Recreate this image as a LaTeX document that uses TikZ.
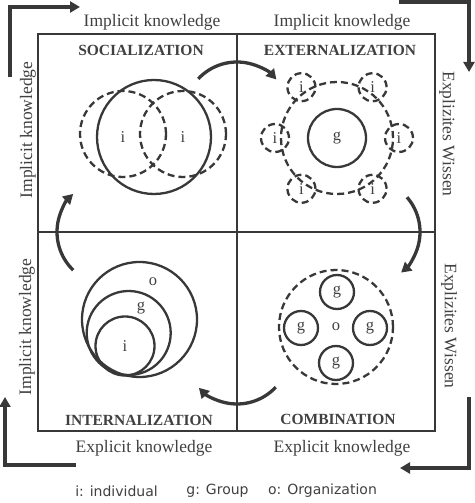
\documentclass[tikz,border=0pt]{standalone}
\usepackage{fontspec}
\setmainfont{Liberation Serif}
\newfontfamily\legendfont{DejaVu Sans}
\usetikzlibrary{arrows.meta}
\definecolor{lc}{HTML}{383838}
\definecolor{tc}{HTML}{404040}
\begin{document}
\begin{tikzpicture}[x=1pt,y=1pt,
  lbl/.style={font=\fontsize{17.5}{20}\selectfont, text=tc, inner sep=0},
  ttl/.style={font=\fontsize{15.5}{18}\selectfont\bfseries, text=tc, inner sep=0},
  ltr/.style={font=\fontsize{16.5}{19}\selectfont, text=tc, inner sep=0},
  leg/.style={font=\legendfont\fontsize{14}{16}\selectfont, text=tc, inner sep=0},
  solidc/.style={circle, draw=lc, line width=2.3pt, inner sep=0, outer sep=0, font=\fontsize{16.5}{19}\selectfont, text=tc},
  dashc/.style={solidc, dash pattern=on 7pt off 4pt},
  arr/.style={draw=lc, line width=3.3pt, -{Triangle[length=10pt,width=11pt]}},
  frame/.style={draw=lc, line width=2.3pt}
]
\useasboundingbox (0,0) rectangle (474,503);

% frame
\node[frame, minimum width=397pt, minimum height=397pt, inner sep=0, outer sep=0] (box) at (236.5,270.5) {};
\coordinate (vt) at (237,469); \coordinate (vb) at (237,72);
\coordinate (hl) at (38,271); \coordinate (hr) at (435,271);
\draw[frame] (vt) -- (vb);
\draw[frame] (hl) -- (hr);

% outer labels
\node[lbl] (ltop1) at (152,481) {Implicit knowledge};
\node[lbl] (ltop2) at (342,481) {Implicit knowledge};
\node[lbl] (lbot1) at (144,55) {Explicit knowledge};
\node[lbl] (lbot2) at (342,55) {Explicit knowledge};
\node[lbl, rotate=90] (lleft1) at (28,373) {Implicit knowledge};
\node[lbl, rotate=90] (lleft2) at (27,176) {Implicit knowledge};
\node[lbl, rotate=-90] (lright1) at (447,369) {Explizites Wissen};
\node[lbl, rotate=-90] (lright2) at (449,177) {Explizites Wissen};

% titles
\node[ttl] (tsoc) at (141,453) {SOCIALIZATION};
\node[ttl] (text) at (340,453) {EXTERNALIZATION};
\node[ttl] (tint) at (139,83) {INTERNALIZATION};
\node[ttl] (tcom) at (338,84) {COMBINATION};

% legend
\node[leg] (leg1) at (116.5,12) {i: individual};
\node[leg] (leg2) at (217.5,12) {g: Group};
\node[leg] (leg3) at (322.5,12) {o: Organization};

% outer corner arrows
\coordinate (a1s) at (10,426); \coordinate (a1e) at (80,496);
\draw[arr] (a1s) |- (a1e);
\coordinate (a2s) at (399,501); \coordinate (a2e) at (469,431);
\draw[arr] (a2s) -| (a2e);
\coordinate (a3s) at (469,106); \coordinate (a3e) at (400,35);
\draw[arr] (a3s) |- (a3e);
\coordinate (a4s) at (76,38); \coordinate (a4e) at (5,106);
\draw[arr] (a4s) -| (a4e);

% curved arrows between quadrants
\coordinate (ct) at ([shift={(237,388)}]137:53);
\draw[arr] (ct) arc[start angle=137, end angle=42, radius=53pt];
\coordinate (cr) at ([shift={(367,271)}]41:53);
\draw[arr] (cr) arc[start angle=41, end angle=-50, radius=53pt];
\coordinate (cb) at ([shift={(237,152)}]-43:53);
\draw[arr] (cb) arc[start angle=-43, end angle=-136, radius=53pt];
\coordinate (cl) at ([shift={(110,271)}]226:53);
\draw[arr] (cl) arc[start angle=226, end angle=134, radius=53pt];

% Socialization
\node[solidc, minimum size=114pt] (sbig) at (154,366) {};
\node[dashc, minimum size=86pt] (si1) at (123,369) {};
\node[dashc, minimum size=86pt] (si2) at (183,369) {};
\node[ltr] at (123,366) {i};
\node[ltr] at (183,366) {i};

% Externalization
\node[dashc, minimum size=112pt] (ering) at (337,365) {};
\node[solidc, minimum size=58pt] (eg) at (337,365) {g};
\foreach \a [count=\k] in {0,55,125,180,235,305}{
  \node[dashc, minimum size=28pt] (ei\k) at ([shift={(337,365)}]\a:62) {i};
}

% Internalization
\node[solidc, minimum size=115pt] (io) at (139.5,183.5) {};
\node[solidc, minimum size=84pt] (ig) at (128.7,170) {};
\node[solidc, minimum size=59pt] (ii) at (125,157) {i};
\node[ltr] at (153,221) {o};
\node[ltr] at (141,195) {g};

% Combination
\node[dashc, minimum size=114pt] (cring) at (336,176) {o};
\node[solidc, minimum size=34pt] (cg1) at (337,211) {g};
\node[solidc, minimum size=34pt] (cg2) at (301,175) {g};
\node[solidc, minimum size=34pt] (cg3) at (370,175) {g};
\node[solidc, minimum size=34pt] (cg4) at (336,140) {g};
\end{tikzpicture}
\end{document}
